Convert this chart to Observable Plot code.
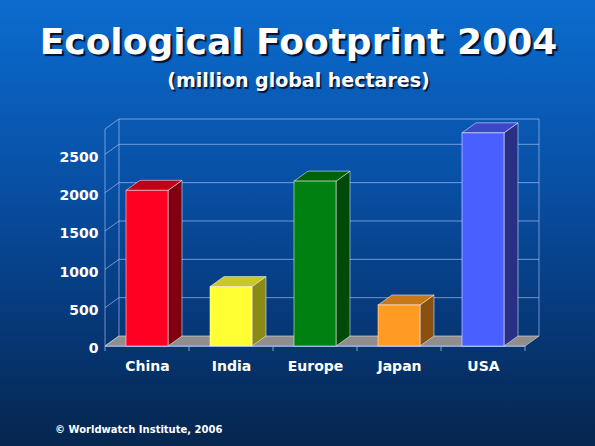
<!DOCTYPE html>
<html>
<head>
<meta charset="utf-8">
<script src="https://cdn.jsdelivr.net/npm/d3@7"></script>
<script src="https://cdn.jsdelivr.net/npm/@observablehq/plot@0.6"></script>
<style>
  html, body { margin: 0; padding: 0; }
  #wrap {
    position: relative; width: 595px; height: 446px; overflow: hidden;
    background: linear-gradient(to bottom, #0b6ccf 0%, #0850a6 40%, #063a7c 70%, #05264e 100%);
    font-family: "DejaVu Sans", Verdana, sans-serif; font-weight: bold; color: white;
  }
  .t { position: absolute; left: 1px; width: 595px; text-align: center; white-space: nowrap; }
  #title { top: 23.5px; font-size: 36px; line-height: 36px; text-shadow: 2px 2px 1px rgba(0,0,25,0.85); }
  #sub { top: 71.4px; font-size: 19px; line-height: 19px; text-shadow: 1.5px 1.5px 1px rgba(0,0,25,0.8); }
  #foot { position: absolute; left: 55px; top: 424.5px; font-size: 10px; line-height: 10px; white-space: nowrap; }
  #chart { position: absolute; left: 0; top: 0; }
</style>
</head>
<body>
<div id="wrap">
  <div id="title" class="t">Ecological Footprint 2004</div>
  <div id="sub" class="t">(million global hectares)</div>
  <div id="chart"></div>
  <div id="foot">© Worldwatch Institute, 2006</div>
</div>
<script>
// ---- data ----
const categories = ["China", "India", "Europe", "Japan", "USA"];
const footprint = [2030, 775, 2150, 535, 2780];   // million global hectares
const yTicks = [0, 500, 1000, 1500, 2000, 2500];
const yMax = 2830;

// ---- styles ----
const frontColors = ["#ff0022", "#ffff33", "#008011", "#ff9a22", "#4a5fff"];
const sideColors  = ["#80000f", "#8a8a14", "#004a07", "#8a5010", "#282f85"];
const topColors   = ["#c20016", "#c8c826", "#006209", "#c77818", "#3a48c8"];
const DX = 14, DY = -10;            // 3D depth offset in pixels
const gridColor = "rgba(185,205,250,0.6)";
const edgeColor = "rgba(255,255,255,0.5)";

const rows = categories.map((c, i) => ({category: c, value: footprint[i], i}));

function poly(pts) { return "M" + pts.map(p => p.join(",")).join("L") + "Z"; }

// walls, gridlines, floor
function walls(index, scales, values, dims) {
  const {x, y} = scales;
  const L = dims.marginLeft, R = dims.width - dims.marginRight;
  const y0 = y(0), yT = y(yMax);
  const g = d3.create("svg:g");
  g.append("path").attr("d", poly([[L, y0], [R, y0], [R + DX, y0 + DY], [L + DX, y0 + DY]]))
    .attr("fill", "#8e8e8e").attr("stroke", "rgba(210,210,210,0.7)").attr("stroke-width", 1);
  const lines = [];
  for (const t of yTicks.concat([yMax])) {
    const yy = y(t);
    if (t !== 0) lines.push([[L + DX, yy + DY], [R + DX, yy + DY]]);
    lines.push([[L, yy], [L + DX, yy + DY]]);
  }
  lines.push([[L, y0], [L, yT]]);
  lines.push([[L + DX, y0 + DY], [L + DX, yT + DY]]);
  lines.push([[R + DX, y0 + DY], [R + DX, yT + DY]]);
  for (const l of lines) {
    g.append("line").attr("x1", l[0][0]).attr("y1", l[0][1]).attr("x2", l[1][0]).attr("y2", l[1][1])
      .attr("stroke", gridColor).attr("stroke-width", 1);
  }
  g.append("line").attr("x1", L).attr("x2", R).attr("y1", y0 + 0.5).attr("y2", y0 + 0.5)
    .attr("stroke", "rgba(140,170,230,0.9)").attr("stroke-width", 1.2);
  const gap = (x.step() - x.bandwidth()) / 2;
  const bounds = categories.map(c => x(c) - gap).concat([x(categories[categories.length - 1]) + x.bandwidth() + gap]);
  for (const b of bounds) {
    g.append("line").attr("x1", b).attr("x2", b).attr("y1", y0).attr("y2", y0 + 5)
      .attr("stroke", "rgba(140,170,230,0.9)").attr("stroke-width", 1);
  }
  return g.node();
}

// side and top faces of each bar
function faces(index, scales, values, dims) {
  const {x, y} = scales;
  const bw = x.bandwidth();
  const g = d3.create("svg:g");
  rows.forEach(r => {
    const x0 = x(r.category), x1 = x0 + bw, yv = y(r.value), y0 = y(0);
    g.append("path").attr("d", poly([[x1, yv], [x1 + DX, yv + DY], [x1 + DX, y0 + DY], [x1, y0]]))
      .attr("fill", sideColors[r.i]).attr("stroke", edgeColor).attr("stroke-width", 1).attr("stroke-linejoin", "round");
    g.append("path").attr("d", poly([[x0, yv], [x1, yv], [x1 + DX, yv + DY], [x0 + DX, yv + DY]]))
      .attr("fill", topColors[r.i]).attr("stroke", edgeColor).attr("stroke-width", 1).attr("stroke-linejoin", "round");
  });
  return g.node();
}

const chart = Plot.plot({
  width: 595,
  height: 446,
  marginLeft: 105,
  marginRight: 70,
  marginTop: 129,
  marginBottom: 100,
  x: {domain: categories, paddingInner: 0.5, paddingOuter: 0.25, axis: null},
  y: {domain: [0, yMax], axis: null},
  style: {background: "transparent", color: "white", fontFamily: "'DejaVu Sans', Verdana, sans-serif", overflow: "visible"},
  marks: [
    walls,
    faces,
    Plot.barY(rows, {x: "category", y: "value", fill: d => frontColors[d.i], stroke: edgeColor, strokeWidth: 1}),
    Plot.text(yTicks, {y: d => d, text: d => String(d), frameAnchor: "left", textAnchor: "end", dx: -7, dy: 2.5,
      fill: "white", fontSize: 14, fontWeight: "bold"}),
    Plot.text(categories, {x: d => d, text: d => d, frameAnchor: "bottom", dy: 24,
      fill: "white", fontSize: 14, fontWeight: "bold"})
  ]
});
document.getElementById("chart").appendChild(chart);
</script>
</body>
</html>
